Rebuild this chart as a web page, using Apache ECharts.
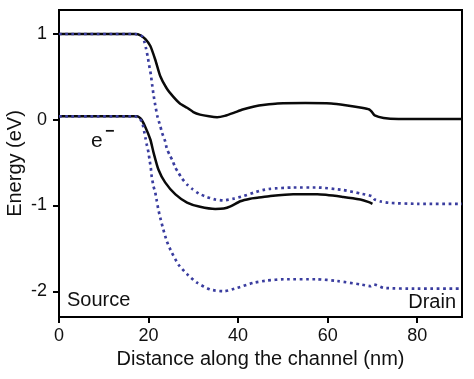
<!DOCTYPE html>
<html>
<head>
<meta charset="utf-8">
<script src="https://cdn.jsdelivr.net/npm/echarts@6/dist/echarts.min.js"></script>
<style>
html,body{margin:0;padding:0;background:#fff;}
#chart{width:474px;height:379px;}
</style>
</head>
<body>
<div id="chart"></div>
<script>
// Distance along channel (nm) / energy (eV) pairs
var blackTopX = [0,17,18.2,19.3,20.4,21.5,22.6,24,25.5,27,28.6,30,31.5,33.5,35.3,37,39,41,43.6,46,48.8,55,60.8,64,67.6,69.3,69.9,70.5,72.5,75.8,90];
var blackTopY = [1.0,1.0,0.985,0.94,0.86,0.70,0.51,0.37,0.27,0.19,0.14,0.09,0.06,0.04,0.03,0.045,0.08,0.12,0.155,0.175,0.19,0.195,0.19,0.17,0.14,0.12,0.09,0.05,0.02,0.01,0.01];

var blackLowX = [0,17.4,18.3,19.2,20.4,21.1,22.2,23.7,26,28.6,31.5,34.9,36.8,38.3,40.5,42.7,44.3,47.2,52.3,57.7,63.5,67.3,69.2,70];
var blackLowY = [0.04,0.04,0.01,-0.075,-0.23,-0.38,-0.58,-0.73,-0.87,-0.965,-1.015,-1.04,-1.035,-1.01,-0.95,-0.92,-0.91,-0.89,-0.87,-0.87,-0.9,-0.93,-0.96,-0.98];

var blueTopX = [0,17,18.5,19,19.4,19.8,20.1,20.5,20.8,21.1,21.5,22.0,22.6,23.0,23.7,24.1,24.8,25.4,25.9,26.7,27.4,28.6,29.7,31.2,33.0,34.9,36.8,39.0,41.2,43.5,45.5,47.2,52.3,57.7,63.5,67.3,69.8,70.5,72,74,80,90];
var blueTopY = [1.0,1.0,0.975,0.92,0.84,0.74,0.645,0.53,0.41,0.295,0.17,0.035,-0.07,-0.15,-0.25,-0.34,-0.42,-0.48,-0.55,-0.62,-0.68,-0.755,-0.805,-0.86,-0.9,-0.93,-0.94,-0.92,-0.89,-0.85,-0.82,-0.805,-0.79,-0.79,-0.82,-0.86,-0.89,-0.93,-0.955,-0.97,-0.98,-0.98];

var blueLowX = [0,17,18.1,18.7,19.0,19.3,19.6,20.0,20.2,20.5,20.7,21.1,21.5,21.85,22.2,22.6,23.3,24.1,25.2,26.7,28.6,30.8,33.8,36.8,39.8,43.5,46.5,50.2,57.6,62.1,67.3,69.6,70.3,72.5,80,90];
var blueLowY = [0.04,0.04,0.01,-0.055,-0.13,-0.21,-0.29,-0.385,-0.46,-0.56,-0.66,-0.775,-0.85,-0.95,-1.05,-1.14,-1.28,-1.42,-1.55,-1.69,-1.8,-1.9,-1.98,-2.0,-1.96,-1.9,-1.875,-1.86,-1.86,-1.88,-1.92,-1.94,-1.92,-1.96,-1.97,-1.97];

var xTicks = [0,20,40,60,80];
var yTicks = [-2,-1,0,1];

function pairs(xs, ys){ return xs.map(function(x,i){ return [x, ys[i]]; }); }

var FONT = 'Liberation Sans, Arial, sans-serif';
var BLUE = '#3a3d9f';
var chart = echarts.init(document.getElementById('chart'), null, {renderer:'canvas'});
chart.setOption({
  animation:false,
  backgroundColor:'#fff',
  grid:{left:59,right:12,top:10,bottom:62,containLabel:false,outerBoundsMode:'none',show:true,borderColor:'#000',borderWidth:2,backgroundColor:'transparent'},
  xAxis:{
    type:'value',min:0,max:90,
    name:'Distance along the channel (nm)',nameLocation:'middle',nameGap:32,nameMoveOverlap:false,
    nameTextStyle:{fontFamily:FONT,fontSize:20,color:'#111'},
    axisLine:{onZero:false,lineStyle:{color:'#000',width:2}},
    axisTick:{show:true,inside:false,length:6,lineStyle:{color:'#000',width:2},customValues:xTicks},
    axisLabel:{fontFamily:FONT,fontSize:18,color:'#111',margin:10,customValues:xTicks},
    splitLine:{show:false}
  },
  yAxis:{
    type:'value',min:-2.3,max:1.28,
    name:'Energy (eV)',nameLocation:'middle',nameGap:34,nameMoveOverlap:false,
    nameTextStyle:{fontFamily:FONT,fontSize:20,color:'#111'},
    axisLine:{onZero:false,lineStyle:{color:'#000',width:2}},
    axisTick:{show:true,inside:false,length:6,lineStyle:{color:'#000',width:2},customValues:yTicks},
    axisLabel:{fontFamily:FONT,fontSize:18,color:'#111',margin:12,customValues:yTicks},
    splitLine:{show:false}
  },
  series:[
    {type:'line',data:pairs(blackTopX,blackTopY),showSymbol:false,smooth:0.2,lineStyle:{color:'#0a0a0a',width:2.5},z:2},
    {type:'line',data:pairs(blackLowX,blackLowY),showSymbol:false,smooth:0.2,lineStyle:{color:'#0a0a0a',width:2.5},z:2},
    {type:'line',data:pairs(blueTopX,blueTopY),showSymbol:false,smooth:0.2,lineStyle:{color:BLUE,width:2.7,type:[2.7,3.6]},z:3},
    {type:'line',data:pairs(blueLowX,blueLowY),showSymbol:false,smooth:0.2,lineStyle:{color:BLUE,width:2.7,type:[2.7,3.6]},z:3}
  ],
  graphic:[
    {type:'text',left:67,top:290,style:{text:'Source',font:'20px '+FONT,fill:'#111'}},
    {type:'text',right:18,top:292,style:{text:'Drain',font:'20px '+FONT,fill:'#111'}},
    {type:'text',left:91,top:131,style:{text:'e',font:'21px '+FONT,fill:'#111'}},
    {type:'text',left:105,top:124,style:{text:'−',font:'bold 16px '+FONT,fill:'#111'}}
  ]
});
</script>
</body>
</html>
